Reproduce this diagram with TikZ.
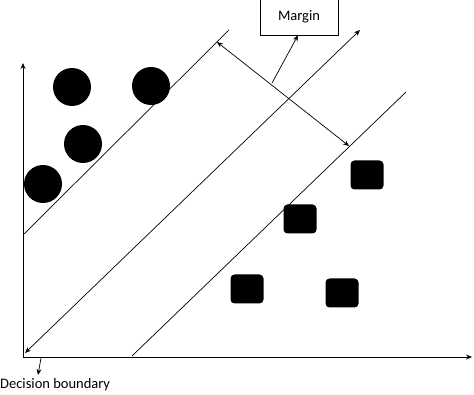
\documentclass[tikz,border=0pt]{standalone}
\usepackage{fontspec}
\setmainfont{Carlito}
\usepackage{tikz}
\usetikzlibrary{arrows.meta}

\begin{document}
\begin{tikzpicture}[
    x=1pt, y=-1pt,
    >={Stealth[length=6pt,width=5pt]},
    line/.style={%
      draw,
      line width=0.7pt,
    },
    dot/.style={%
      circle,
      fill=black,
      minimum size=38pt,
      inner sep=0pt,
    },
    box/.style={%
      rectangle,
      rounded corners=4pt,
      fill=black,
      minimum width=33pt,
      minimum height=29pt,
      inner sep=0pt,
    },
    label/.style={%
      font=\fontsize{14.5}{17}\selectfont,
      inner sep=0pt,
    },
  ]
    \useasboundingbox (0,0) rectangle (474,395);

    % axes
    \coordinate (O) at (23,357);
    \coordinate (Y) at (23,63);
    \coordinate (X) at (472,357);
    \draw [line,->] (O) -- (Y);
    \draw [line,->] (O) -- (X);

    % class one
    \node [dot] (C1) at (72,87) {};
    \node [dot] (C2) at (151,86) {};
    \node [dot] (C3) at (83,144) {};
    \node [dot] (C4) at (43,184) {};

    % class two
    \node [box] (S1) at (367,175) {};
    \node [box] (S2) at (300,219) {};
    \node [box] (S3) at (247,289) {};
    \node [box] (S4) at (342,293) {};

    % boundary and margins
    \coordinate (T1) at (23,235);
    \coordinate (T2) at (229,30);
    \coordinate (M1) at (25,353);
    \coordinate (M2) at (360,30);
    \coordinate (B1) at (132,356);
    \coordinate (B2) at (406,92);
    \draw [line] (T1) -- (T2);
    \draw [line,<->] (M1) -- (M2);
    \draw [line] (B1) -- (B2);

    \coordinate (W1) at (217,42);
    \coordinate (W2) at (349,146);
    \draw [line,<->] (W1) -- (W2);

    % labels
    \node [label,draw,line width=0.5pt,minimum width=78pt,minimum height=36pt] (margin) at (299,17) {Margin};
    \coordinate (P) at (272,83);
    \draw [line,->] (P) -- (margin.south -| 298,0);

    \node [label,anchor=south west] (db) at (0,391) {Decision boundary};
    \coordinate (D1) at (41,358);
    \coordinate (D2) at (38,375);
    \draw [line,->] (D1) -- (D2);
\end{tikzpicture}
\end{document}
